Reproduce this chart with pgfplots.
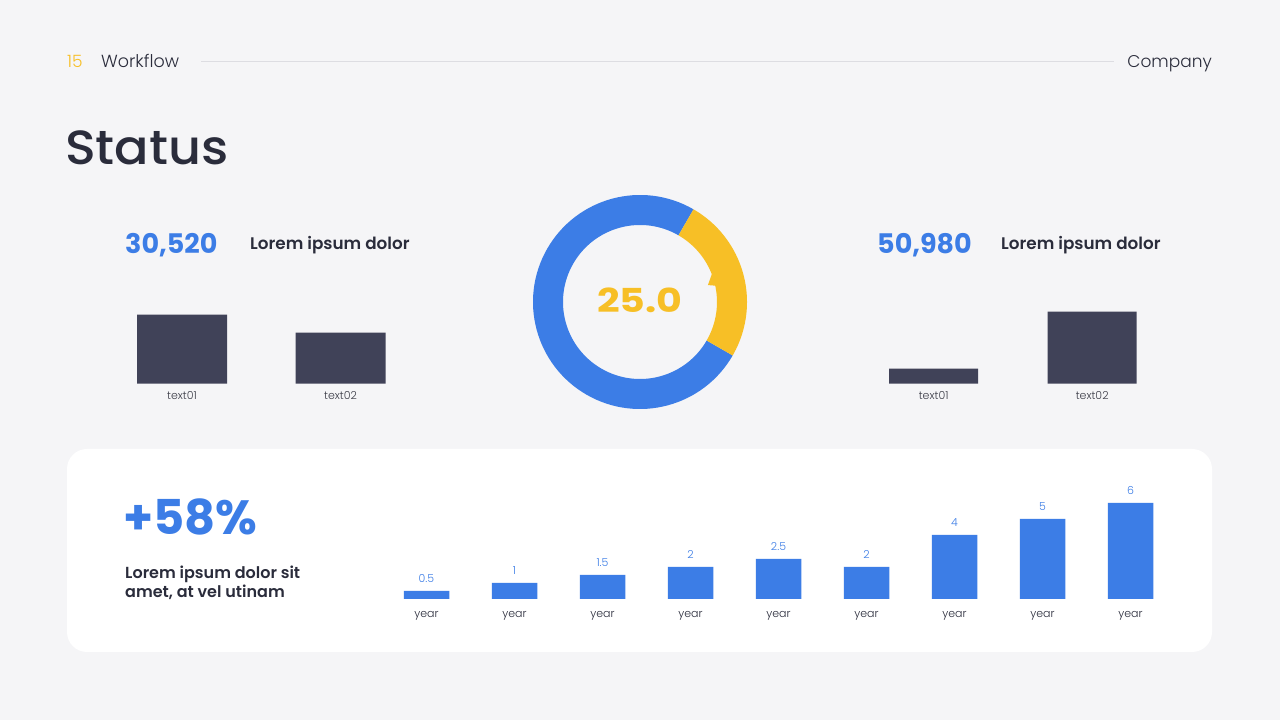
\documentclass[border=0pt]{standalone}
\usepackage{pgfplots}
\pgfplotsset{compat=1.18}
\usepackage{pgfplotstable}
\usepackage{fontspec}
\setmainfont{Poppins}
\newfontfamily\plight{Poppins Light}
\newfontfamily\pmedium[FakeStretch=1.06]{Poppins Medium}
\newfontfamily\psemi{Poppins SemiBold}
\newfontfamily\pbold{Poppins Bold}
\newfontfamily\pboldwide[FakeStretch=1.2]{Poppins Bold}

\definecolor{bgc}{HTML}{F5F5F7}
\definecolor{bluec}{HTML}{3C7DE6}
\definecolor{yel}{HTML}{F7BF26}
\definecolor{darkbar}{HTML}{404258}
\definecolor{txt}{HTML}{2A2C3B}
\definecolor{linec}{HTML}{DDDDE2}
\definecolor{lab}{HTML}{3A3B46}

\pgfplotstableread{
x y label
0 0.5 0.5
1 1 1
2 1.5 1.5
3 2 2
4 2.5 2.5
5 2 2
6 4 4
7 5 5
8 6 6
}\yeardata

\pgfplotstableread{
x y
0 69
1 51
}\leftdata

\pgfplotstableread{
x y
0 15
1 72
}\rightdata

\def\donutvalue{25}

\pgfplotsset{minibar/.style={
  ybar, scale only axis, axis line style={draw=none}, ytick=\empty,
  xtick=data, major tick length=0pt, ymin=0, clip=false,
  enlargelimits=false, anchor=south west,
}}

\begin{document}
\begin{tikzpicture}[x=1pt,y=1pt]
\useasboundingbox (0,0) rectangle (1280,720);
\fill[bgc] (0,0) rectangle (1280,720);

% header
\node[anchor=base west, inner sep=0, text=yel, font=\plight\fontsize{17}{20}\selectfont] at (67,652.3) {15};
\node[anchor=base west, inner sep=0, text=txt, font=\plight\fontsize{17.5}{20}\selectfont] at (101,652.3) {Workflow};
\draw[linec, line width=1pt] (201,658) -- (1114,658);
\node[anchor=base east, inner sep=0, text=txt, font=\plight\fontsize{17}{20}\selectfont] at (1212,652.3) {Company};

% title
\node[anchor=base west, inner sep=0, text=txt, font=\pmedium\fontsize{48}{52}\selectfont] at (65,555) {Status};

% left block
\node[anchor=base west, inner sep=0, text=bluec, font=\pbold\fontsize{27}{30}\selectfont] at (125,466.8) {30,520};
\node[anchor=base west, inner sep=0, text=txt, font=\psemi\fontsize{16.8}{20}\selectfont] at (250,470.7) {Lorem ipsum dolor};

\begin{axis}[minibar, at={(102.75pt,336.3pt)}, width=317pt, height=100pt,
  xmin=-0.5, xmax=1.5, ymax=100, bar width=90pt,
  xticklabels={text01,text02},
  xticklabel style={anchor=base, yshift=-15.5pt, text=lab, font=\plight\fontsize{11}{13}\selectfont}]
\addplot[fill=darkbar, draw=none] table[x=x,y=y] {\leftdata};
\end{axis}

% right block
\node[anchor=base west, inner sep=0, text=bluec, font=\pbold\fontsize{27}{30}\selectfont] at (877,466.8) {50,980};
\node[anchor=base west, inner sep=0, text=txt, font=\psemi\fontsize{16.8}{20}\selectfont] at (1001,470.7) {Lorem ipsum dolor};

\begin{axis}[minibar, at={(854.4pt,336.3pt)}, width=317pt, height=100pt,
  xmin=-0.5, xmax=1.5, ymax=100, bar width=89pt,
  xticklabels={text01,text02},
  xticklabel style={anchor=base, yshift=-15.5pt, text=lab, font=\plight\fontsize{11}{13}\selectfont}]
\addplot[fill=darkbar, draw=none] table[x=x,y=y] {\rightdata};
\end{axis}

% donut
\pgfmathsetmacro{\yend}{60-3.6*\donutvalue}
\begin{scope}[shift={(640,418)}]
  \fill[bluec] (60:107) arc[start angle=60, end angle={\yend+360}, radius=107]
     -- ({\yend}:77) arc[start angle={\yend+360}, end angle=60, radius=77] -- cycle;
  \fill[yel] (60:107) arc[start angle=60, end angle=\yend, radius=107]
     -- (\yend:77) arc[start angle=\yend, end angle=60, radius=77] -- cycle;
  \fill[yel] (22:78) -- (12:78) -- (14:70) -- cycle;
\end{scope}
\node[anchor=base, inner sep=0, text=yel, font=\pboldwide\fontsize{33}{36}\selectfont] at (640,407.3) {25.0};

% bottom panel
\fill[white, rounded corners=20pt] (67,68) rectangle (1212,271);
\node[anchor=base west, inner sep=0, text=bluec, font=\pbold\fontsize{48}{52}\selectfont] at (123,185) {+58\%};
\node[anchor=base west, inner sep=0, text=txt, font=\psemi\fontsize{16}{19}\selectfont, align=left] at (125,122) {Lorem ipsum dolor sit\\amet, at vel utinam};

\begin{axis}[minibar, at={(382.5pt,121pt)}, width=792pt, height=96pt,
  xmin=-0.5, xmax=8.5, ymax=6, bar width=45.5pt,
  xticklabels={year,year,year,year,year,year,year,year,year},
  xticklabel style={anchor=base, yshift=-18.5pt, text=txt, font=\plight\fontsize{11}{13}\selectfont},
  nodes near coords, point meta=explicit symbolic,
  every node near coord/.append style={anchor=base, yshift=8pt, text=bluec, font=\plight\fontsize{11}{13}\selectfont}]
\addplot[fill=bluec, draw=none] table[x=x,y=y,meta=label] {\yeardata};
\end{axis}
\end{tikzpicture}
\end{document}
